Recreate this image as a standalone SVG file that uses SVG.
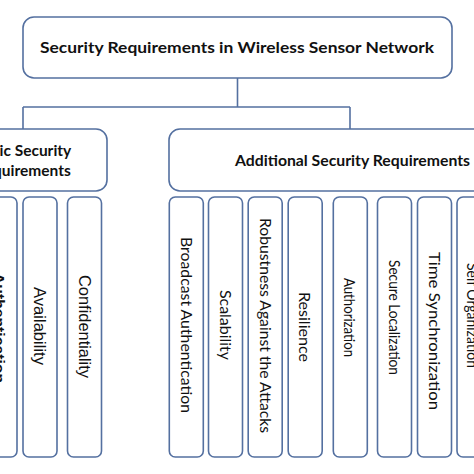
<svg xmlns="http://www.w3.org/2000/svg" width="474" height="474" viewBox="0 0 474 474">
<style>
.box{fill:#fff;stroke:#5470a0;stroke-width:1.6}
.con{fill:none;stroke:#5470a0;stroke-width:1.6}
.h{font-family:Lato,"Open Sans",sans-serif;font-weight:bold;font-size:15.5px;fill:#111}
.v{font-family:Lato,"Open Sans",sans-serif;font-size:15.5px;fill:#111}
.a{font-family:"Liberation Sans",Arial,sans-serif;font-size:16px;fill:#111}
.ab{font-family:"Liberation Sans",Arial,sans-serif;font-weight:bold;font-size:15px;fill:#111}
</style>
<rect width="474" height="474" fill="#fff"/>
<g id="connectors">
<path class="con" d="M237.5 78V107M23 107H350M23 107V129M350 107V129"/>
</g>
<g id="root">
<rect class="box" x="23" y="17" width="429" height="61" rx="11"/>
<text class="h" x="40" y="53" textLength="394" lengthAdjust="spacingAndGlyphs">Security Requirements in Wireless Sensor Network</text>
</g>
<g id="basic">
<rect class="box" x="-61" y="129" width="168" height="62" rx="11"/>
<text class="h" x="23" y="156" text-anchor="middle">Basic Security</text>
<text class="h" x="23" y="176" text-anchor="middle">Requirements</text>
</g>
<g id="additional">
<rect class="box" x="169" y="129" width="366" height="62" rx="11"/>
<text class="h" x="235" y="166" textLength="235" lengthAdjust="spacingAndGlyphs">Additional Security Requirements</text>
</g>
<g id="authentication">
<rect class="box" x="-17" y="197" width="34" height="260" rx="6"/>
<text class="ab" transform="translate(-6 273) rotate(90)" textLength="110" lengthAdjust="spacingAndGlyphs">Authentication</text>
</g>
<g id="availability">
<rect class="box" x="23" y="197" width="34" height="260" rx="6"/>
<text class="a" transform="translate(34 287) rotate(90)" textLength="78" lengthAdjust="spacingAndGlyphs">Availability</text>
</g>
<g id="confidentiality">
<rect class="box" x="67.5" y="197" width="34" height="260" rx="6"/>
<text class="a" transform="translate(78.5 275) rotate(90)" textLength="103" lengthAdjust="spacingAndGlyphs">Confidentiality</text>
</g>
<g id="broadcast">
<rect class="box" x="169.3" y="197" width="34" height="260" rx="6"/>
<text class="v" transform="translate(181 237) rotate(90)" textLength="176" lengthAdjust="spacingAndGlyphs">Broadcast Authentication</text>
</g>
<g id="scalability">
<rect class="box" x="208.5" y="197" width="34" height="260" rx="6"/>
<text class="v" transform="translate(220 290) rotate(90)" textLength="70" lengthAdjust="spacingAndGlyphs">Scalability</text>
</g>
<g id="robustness">
<rect class="box" x="248.2" y="197" width="34" height="260" rx="6"/>
<text class="v" transform="translate(259.5 218) rotate(90)" textLength="215" lengthAdjust="spacingAndGlyphs">Robustness Against the Attacks</text>
</g>
<g id="resilience">
<rect class="box" x="288.2" y="197" width="34" height="260" rx="6"/>
<text class="v" transform="translate(298.8 292) rotate(90)" textLength="70" lengthAdjust="spacingAndGlyphs">Resilience</text>
</g>
<g id="authorization">
<rect class="box" x="333.3" y="197" width="34" height="260" rx="6"/>
<text class="v" transform="translate(344.3 278) rotate(90)" textLength="79" lengthAdjust="spacingAndGlyphs">Authorization</text>
</g>
<g id="localization">
<rect class="box" x="377.5" y="197" width="34" height="260" rx="6"/>
<text class="v" transform="translate(388.5 260) rotate(90)" textLength="115" lengthAdjust="spacingAndGlyphs">Secure Localization</text>
</g>
<g id="timesync">
<rect class="box" x="417.5" y="197" width="34" height="260" rx="6"/>
<text class="v" transform="translate(429 252) rotate(90)" textLength="158" lengthAdjust="spacingAndGlyphs">Time Synchronization</text>
</g>
<g id="selforg">
<rect class="box" x="457" y="197" width="34" height="260" rx="6"/>
<text class="v" transform="translate(467 263) rotate(90)" textLength="105" lengthAdjust="spacingAndGlyphs">Self Organization</text>
</g>
</svg>
